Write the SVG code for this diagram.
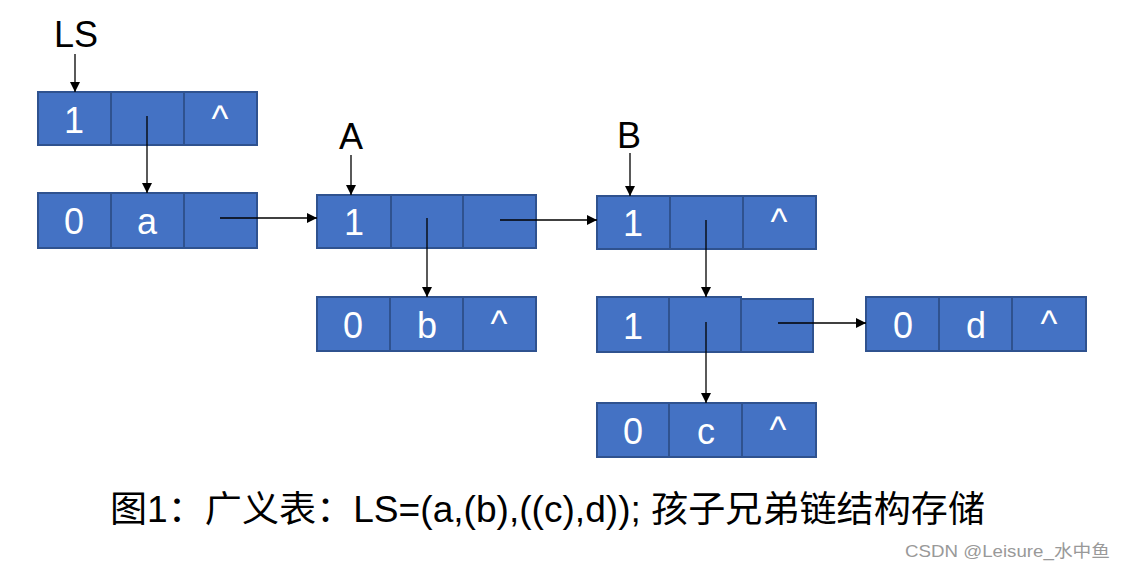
<svg xmlns="http://www.w3.org/2000/svg" width="1125" height="568" viewBox="0 0 1125 568">
<style>
.cell{fill:#4472C4;stroke:#2F528F;stroke-width:2}
.t{font-family:"Liberation Sans",Arial,sans-serif;font-size:36px;fill:#fff;text-anchor:middle}
.lbl{font-family:"Liberation Sans",Arial,sans-serif;font-size:36px;fill:#000;text-anchor:middle}
.ln{stroke:#000;stroke-width:1.3;fill:none;marker-end:url(#ah)}
</style>
<defs>
<marker id="ah" viewBox="0 0 10 10" refX="10" refY="5" markerWidth="10" markerHeight="10" markerUnits="userSpaceOnUse" orient="auto">
<path d="M0,0 L10,5 L0,10 z" fill="#000"/>
</marker>
</defs>
<rect width="1125" height="568" fill="#fff"/>

<g id="labels">
<text class="lbl" x="76" y="47">LS</text>
<text class="lbl" x="351" y="149">A</text>
<text class="lbl" x="629" y="148">B</text>
</g>

<g id="node-LS">
<rect class="cell" x="38" y="92" width="73" height="53"/>
<rect class="cell" x="111" y="92" width="73" height="53"/>
<rect class="cell" x="184" y="92" width="73" height="53"/>
<text class="t" x="74" y="133">1</text>
<text class="t" x="220" y="131">^</text>
</g>

<g id="node-a">
<rect class="cell" x="38" y="193" width="73" height="55"/>
<rect class="cell" x="111" y="193" width="73" height="55"/>
<rect class="cell" x="184" y="193" width="73" height="55"/>
<text class="t" x="74" y="234">0</text>
<text class="t" x="147" y="234">a</text>
</g>

<g id="node-A">
<rect class="cell" x="317" y="195" width="74" height="53"/>
<rect class="cell" x="391" y="195" width="72" height="53"/>
<rect class="cell" x="463" y="195" width="73" height="53"/>
<text class="t" x="354" y="235">1</text>
</g>

<g id="node-b">
<rect class="cell" x="317" y="297" width="73" height="54"/>
<rect class="cell" x="390" y="297" width="73" height="54"/>
<rect class="cell" x="463" y="297" width="73" height="54"/>
<text class="t" x="353" y="338">0</text>
<text class="t" x="427" y="338">b</text>
<text class="t" x="499" y="336">^</text>
</g>

<g id="node-B">
<rect class="cell" x="597" y="196" width="73" height="53"/>
<rect class="cell" x="670" y="196" width="73" height="53"/>
<rect class="cell" x="743" y="196" width="73" height="53"/>
<text class="t" x="633" y="236">1</text>
<text class="t" x="779" y="234">^</text>
</g>

<g id="node-B2">
<rect class="cell" x="597" y="297" width="72" height="55"/>
<rect class="cell" x="669" y="297" width="72" height="55"/>
<rect class="cell" x="741" y="299" width="72" height="53"/>
<text class="t" x="633" y="339">1</text>
</g>

<g id="node-c">
<rect class="cell" x="597" y="403" width="72" height="54"/>
<rect class="cell" x="669" y="403" width="73" height="54"/>
<rect class="cell" x="742" y="403" width="74" height="54"/>
<text class="t" x="633" y="444">0</text>
<text class="t" x="706" y="444">c</text>
<text class="t" x="778" y="442">^</text>
</g>

<g id="node-d">
<rect class="cell" x="866" y="297" width="73" height="54"/>
<rect class="cell" x="939" y="297" width="73" height="54"/>
<rect class="cell" x="1012" y="297" width="74" height="54"/>
<text class="t" x="903" y="338">0</text>
<text class="t" x="976" y="338">d</text>
<text class="t" x="1049" y="336">^</text>
</g>

<g id="connectors">
<line class="ln" x1="75" y1="54" x2="75" y2="92"/>
<line class="ln" x1="147" y1="116" x2="147" y2="193"/>
<line class="ln" x1="220" y1="218" x2="317" y2="218"/>
<line class="ln" x1="351" y1="155" x2="351" y2="195"/>
<line class="ln" x1="427" y1="218" x2="427" y2="297"/>
<line class="ln" x1="500" y1="220" x2="597" y2="220"/>
<line class="ln" x1="630" y1="153" x2="630" y2="196"/>
<line class="ln" x1="706" y1="220" x2="706" y2="297"/>
<line class="ln" x1="706" y1="322" x2="706" y2="403"/>
<line class="ln" x1="778" y1="323" x2="866" y2="323"/>
</g>

<g id="caption">
<text x="110" y="522" textLength="875" lengthAdjust="spacingAndGlyphs" style="font-family:'Liberation Sans','Noto Sans CJK SC',sans-serif;font-size:36px;fill:#000">图1：广义表：LS=(a,(b),((c),d)); 孩子兄弟链结构存储</text>
<text x="905" y="557" textLength="205" lengthAdjust="spacingAndGlyphs" style="font-family:'Liberation Sans','Noto Sans CJK SC',sans-serif;font-size:17px;fill:#999">CSDN @Leisure_水中鱼</text>
</g>
</svg>
